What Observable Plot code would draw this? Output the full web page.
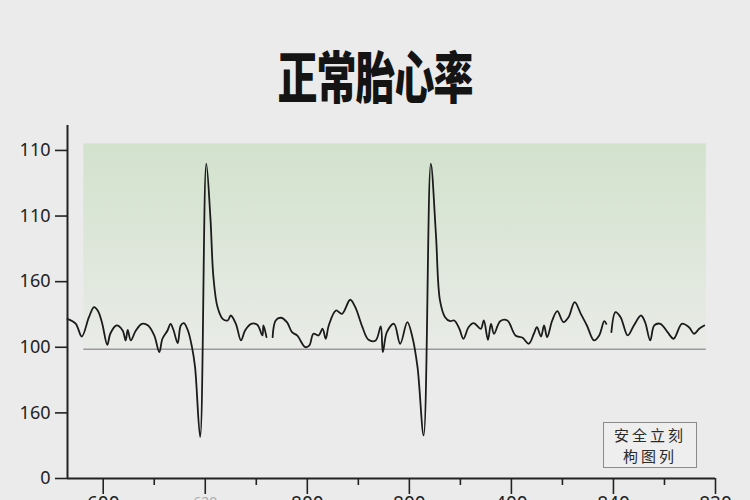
<!DOCTYPE html>
<html><head><meta charset="utf-8">
<script src="https://cdn.jsdelivr.net/npm/d3@7"></script>
<script src="https://cdn.jsdelivr.net/npm/@observablehq/plot@0.6"></script>
<style>
html,body{margin:0;padding:0;background:#ebebeb;width:750px;height:500px;overflow:hidden;font-family:"Noto Sans CJK SC","Noto Sans",sans-serif;}
#title{position:absolute;left:0;top:50px;width:750px;text-align:center;}
#title span{display:inline-block;font-size:40px;line-height:50px;font-weight:900;color:#141414;letter-spacing:-1px;transform:scaleY(1.38);}
#chart{position:absolute;left:0;top:100px;}
#legend{position:absolute;left:603px;top:422px;width:94px;height:46px;box-sizing:border-box;border:1.5px solid #8a8a8a;background:#eeeeee;text-align:center;font-size:15px;color:#2a2a2a;padding-top:1px;letter-spacing:3px;}
#legend div{height:21px;line-height:21px;}
</style>
</head><body>
<div id="title"><span>正常胎心率</span></div>
<div id="chart"></div>
<div id="legend"><div>安全立刻</div><div>枸图列</div></div>
<script>
// ---- data ----
const xTicks = [0, 100, 200, 300, 400, 500, 600];
const xLabels = ["600", "620", "800", "800", "400", "840", "820"];
const xMinorTicks = [50, 150, 250, 350, 450, 550];
const yTicks = [0, 50, 100, 150, 200, 250];
const yLabels = ["0", "160", "100", "160", "110", "110"];
const bandX = [-19, 591];
const bandY = [99, 255];
const baseline = [98.5];
const time = [-35,-27,-21,-14,-9,-5,-1,4,7,13,19,22,24,27,32,38,44,50,55,58,63,66,69,73,76,79,83,87,90,95,101,105,108,112,117,122,125,130,135,139,145,151,156,157,160,null,166,169,174,180,185,190,198,202,206,211,215,218,221,228,234,242,247,254,260,267,272,274,278,285,291,298,303,308,314,321,326,330,335,340,344,349,353,358,363,370,373,377,380,383,389,396,404,411,417,422,425,429,432,435,440,445,451,456,462,468,474,481,486,491,493,null,498,502,507,514,520,527,531,536,540,546,553,559,567,574,579,584,589];
const fhr = [121.7,118.1,108.2,122.9,130.6,127.5,118.1,101.9,110.5,116.6,112.8,105.2,113.3,105.2,112.8,117.9,116.6,109.0,96.3,106.5,112.8,117.9,112.8,103.1,116.6,118.4,112.8,100.1,84.8,31.5,239.9,199.2,153.4,130.6,121.7,120.4,124.2,117.9,105.2,112.8,117.9,117.1,109.0,116.6,107.7,null,107.7,120.4,122.5,119.1,111.5,109.0,100.1,101.4,110.3,109.0,114.1,106.5,116.6,128.0,125.5,136.2,130.6,115.3,105.7,105.2,115.9,96.3,111.5,117.9,102.7,119.1,107.7,84.8,32.8,239.9,186.5,135.7,122.9,119.9,120.4,114.1,106.5,115.3,118.4,114.1,120.4,105.7,117.9,110.3,119.9,120.4,109.0,107.2,102.7,110.3,115.3,108.2,116.6,107.7,120.4,127.5,119.1,122.9,134.4,125.5,116.6,105.2,109.0,119.9,117.9,null,111.5,126.8,122.9,109.0,116.6,124.2,119.1,105.2,116.6,117.9,111.5,106.5,117.9,115.3,110.3,114.1,116.6];

const trace = time.map((t, i) => ({t: t, v: fhr[i]}));

const defsMark = () => {
  const ns = "http://www.w3.org/2000/svg";
  const defs = document.createElementNS(ns, "defs");
  const g = document.createElementNS(ns, "linearGradient");
  g.setAttribute("id", "bandGrad");
  g.setAttribute("x1", "0"); g.setAttribute("y1", "0");
  g.setAttribute("x2", "0"); g.setAttribute("y2", "1");
  [["0", "#d2e2cd"], ["0.45", "#dce6d8"], ["1", "#e9ebe7"]].forEach(([o, c]) => {
    const s = document.createElementNS(ns, "stop");
    s.setAttribute("offset", o); s.setAttribute("stop-color", c);
    g.appendChild(s);
  });
  defs.appendChild(g);
  return defs;
};

const chart = Plot.plot({
  width: 750,
  height: 415,
  marginTop: 25,
  marginBottom: 37,
  marginLeft: 67,
  marginRight: 35,
  style: {background: "transparent", color: "#222", fontFamily: "'Noto Sans', sans-serif", overflow: "visible"},
  x: {domain: [-35, 600], label: null},
  y: {domain: [0, 269], label: null},
  marks: [
    defsMark,
    Plot.rect([0], {x1: bandX[0], x2: bandX[1], y1: bandY[0], y2: bandY[1], fill: "url(#bandGrad)"}),
    Plot.ruleY(baseline, {x1: bandX[0], x2: bandX[1], stroke: "#9a9a9a", strokeWidth: 1.3}),
    Plot.line(trace, {x: "t", y: "v", stroke: "#1b1b1b", strokeWidth: 1.8, curve: "catmull-rom"}),
    Plot.ruleX([-35], {y1: 0, y2: 269, stroke: "#222", strokeWidth: 2}),
    Plot.ruleY([0], {x1: -35, x2: 600, stroke: "#222", strokeWidth: 2}),
    Plot.axisY({ticks: yTicks, tickFormat: d => yLabels[yTicks.indexOf(d)], label: null, tickSize: 12, tickPadding: 5, fontSize: 18, strokeWidth: 1.6, fill: "#222"}),
    Plot.axisX({ticks: xMinorTicks, tickFormat: () => "", label: null, tickSize: 7, strokeWidth: 1.6}),
    Plot.axisX({ticks: xTicks.filter(d => d !== 100), tickFormat: d => xLabels[xTicks.indexOf(d)], label: null, tickSize: 16, tickPadding: 2, fontSize: 19, strokeWidth: 1.6, fill: "#222"}),
    Plot.axisX({ticks: [100], tickFormat: d => xLabels[xTicks.indexOf(d)], label: null, tickSize: 16, tickPadding: 3, fontSize: 14, strokeWidth: 1.6, fill: "#aaa"})
  ]
});
document.getElementById("chart").appendChild(chart);
</script>
</body></html>
